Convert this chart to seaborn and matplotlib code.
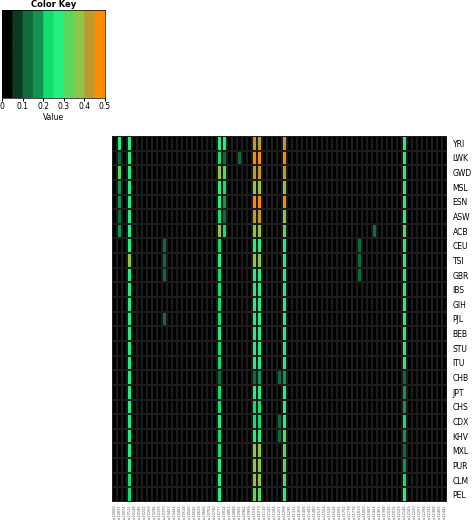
import numpy as np
import pandas as pd
import matplotlib
matplotlib.use("Agg")
import matplotlib.pyplot as plt
import seaborn as sns
from matplotlib.colors import ListedColormap

pops = ["YRI", "LWK", "GWD", "MSL", "ESN", "ASW", "ACB", "CEU", "TSI", "GBR",
        "IBS", "GIH", "PJL", "BEB", "STU", "ITU", "CHB", "JPT", "CHS", "CDX",
        "KHV", "MXL", "PUR", "CLM", "PEL"]
n_cols = 67
snp_labels = ["rs%d" % (10000 + 37 * i) for i in range(n_cols)]

# non-zero columns (column index -> value per population)
col_01 = [0.25, 0.1, 0.3, 0.15, 0.15, 0.1, 0.15] + [0] * 18
col_03 = [0.28, 0.28, 0.28, 0.25, 0.28, 0.28, 0.25, 0.25, 0.35, 0.28, 0.28, 0.28, 0.25,
          0.28, 0.28, 0.28, 0.25, 0.28, 0.28, 0.25, 0.28, 0.28, 0.25, 0.2, 0.2]
col_10 = [0] * 7 + [0.12, 0.12, 0.12, 0, 0, 0.12] + [0] * 12
col_21 = [0.25, 0.2, 0.35, 0.28, 0.28, 0.2, 0.35, 0.2, 0.25, 0.22, 0.22, 0.22, 0.22,
          0.25, 0.22, 0.22, 0.12, 0.22, 0.22, 0.25, 0.22, 0.22, 0.25, 0.25, 0.25]
col_22 = [0.28, 0.1, 0.3, 0.2, 0.15, 0.1, 0.2] + [0] * 18
col_25 = [0, 0.1] + [0] * 23
col_28 = [0.42, 0.5, 0.42, 0.38, 0.5, 0.42, 0.35, 0.28, 0.35, 0.28, 0.28, 0.25, 0.28,
          0.25, 0.28, 0.25, 0.12, 0.25, 0.22, 0.22, 0.25, 0.35, 0.35, 0.35, 0.3]
col_29 = [0.42, 0.5, 0.42, 0.38, 0.5, 0.42, 0.35, 0.28, 0.35, 0.28, 0.28, 0.25, 0.28,
          0.25, 0.28, 0.25, 0.15, 0.25, 0.22, 0.22, 0.25, 0.35, 0.35, 0.35, 0.3]
col_33 = [0] * 16 + [0.12, 0, 0, 0.12, 0.12] + [0] * 4
col_34 = [0.42, 0.45, 0.42, 0.38, 0.48, 0.38, 0.3, 0.25, 0.28, 0.25, 0.25, 0.25, 0.25,
          0.25, 0.25, 0.25, 0.15, 0.25, 0.28, 0.25, 0.3, 0.32, 0.32, 0.3, 0.28]
col_49 = [0] * 7 + [0.1, 0.1, 0.1] + [0] * 15
col_52 = [0] * 6 + [0.1] + [0] * 18
col_58 = [0.28, 0.28, 0.28, 0.28, 0.28, 0.28, 0.3, 0.25, 0.25, 0.25, 0.25, 0.25, 0.25,
          0.25, 0.25, 0.25, 0.12, 0.15, 0.15, 0.22, 0.15, 0.12, 0.15, 0.22, 0.25]

columns = {1: col_01, 3: col_03, 10: col_10, 21: col_21, 22: col_22, 25: col_25,
           28: col_28, 29: col_29, 33: col_33, 34: col_34, 49: col_49, 52: col_52,
           58: col_58}

key_colors = ["#000000", "#0b3a20", "#0f6b3c", "#12934f", "#10df6f",
              "#25f07e", "#5ad85e", "#8fc648", "#c09a2e", "#ff8c00"]
cmap = ListedColormap(key_colors)

mat = np.zeros((len(pops), n_cols))
for c, vals in columns.items():
    mat[:, c] = vals
df = pd.DataFrame(mat, index=pops, columns=snp_labels)

fig = plt.figure(figsize=(4.74, 5.2), dpi=100)
ax = fig.add_axes([112 / 474, 18 / 520, 335 / 474, 366 / 520])
sns.heatmap(df, ax=ax, cmap=cmap, vmin=0, vmax=0.5, cbar=False,
            linewidths=0.25, linecolor="#1c1c1c", xticklabels=True, yticklabels=True)
ax.yaxis.tick_right()
ax.tick_params(axis="y", length=0, labelsize=5.5, rotation=0, pad=4)
ax.tick_params(axis="x", length=0, labelsize=2.5, rotation=90, pad=2, colors="#555555")
ax.set_xlabel("")
ax.set_ylabel("")

# colour key
kax = fig.add_axes([2 / 474, 422 / 520, 103 / 474, 88 / 520])
grad = np.linspace(0, 0.5, 200).reshape(1, -1)
kax.imshow(grad, aspect="auto", cmap=cmap, vmin=0, vmax=0.5, extent=[0, 0.5, 0, 1])
kax.set_yticks([])
kax.set_xticks([0, 0.1, 0.2, 0.3, 0.4, 0.5])
kax.set_xticklabels(["0", "0.1", "0.2", "0.3", "0.4", "0.5"])
kax.tick_params(axis="x", labelsize=5.5, length=2, pad=1)
kax.set_title("Color Key", fontsize=6, fontweight="bold", pad=2)
kax.set_xlabel("Value", fontsize=5.5, labelpad=1)
for s in kax.spines.values():
    s.set_linewidth(0.5)

fig.savefig("out.png", dpi=100)
